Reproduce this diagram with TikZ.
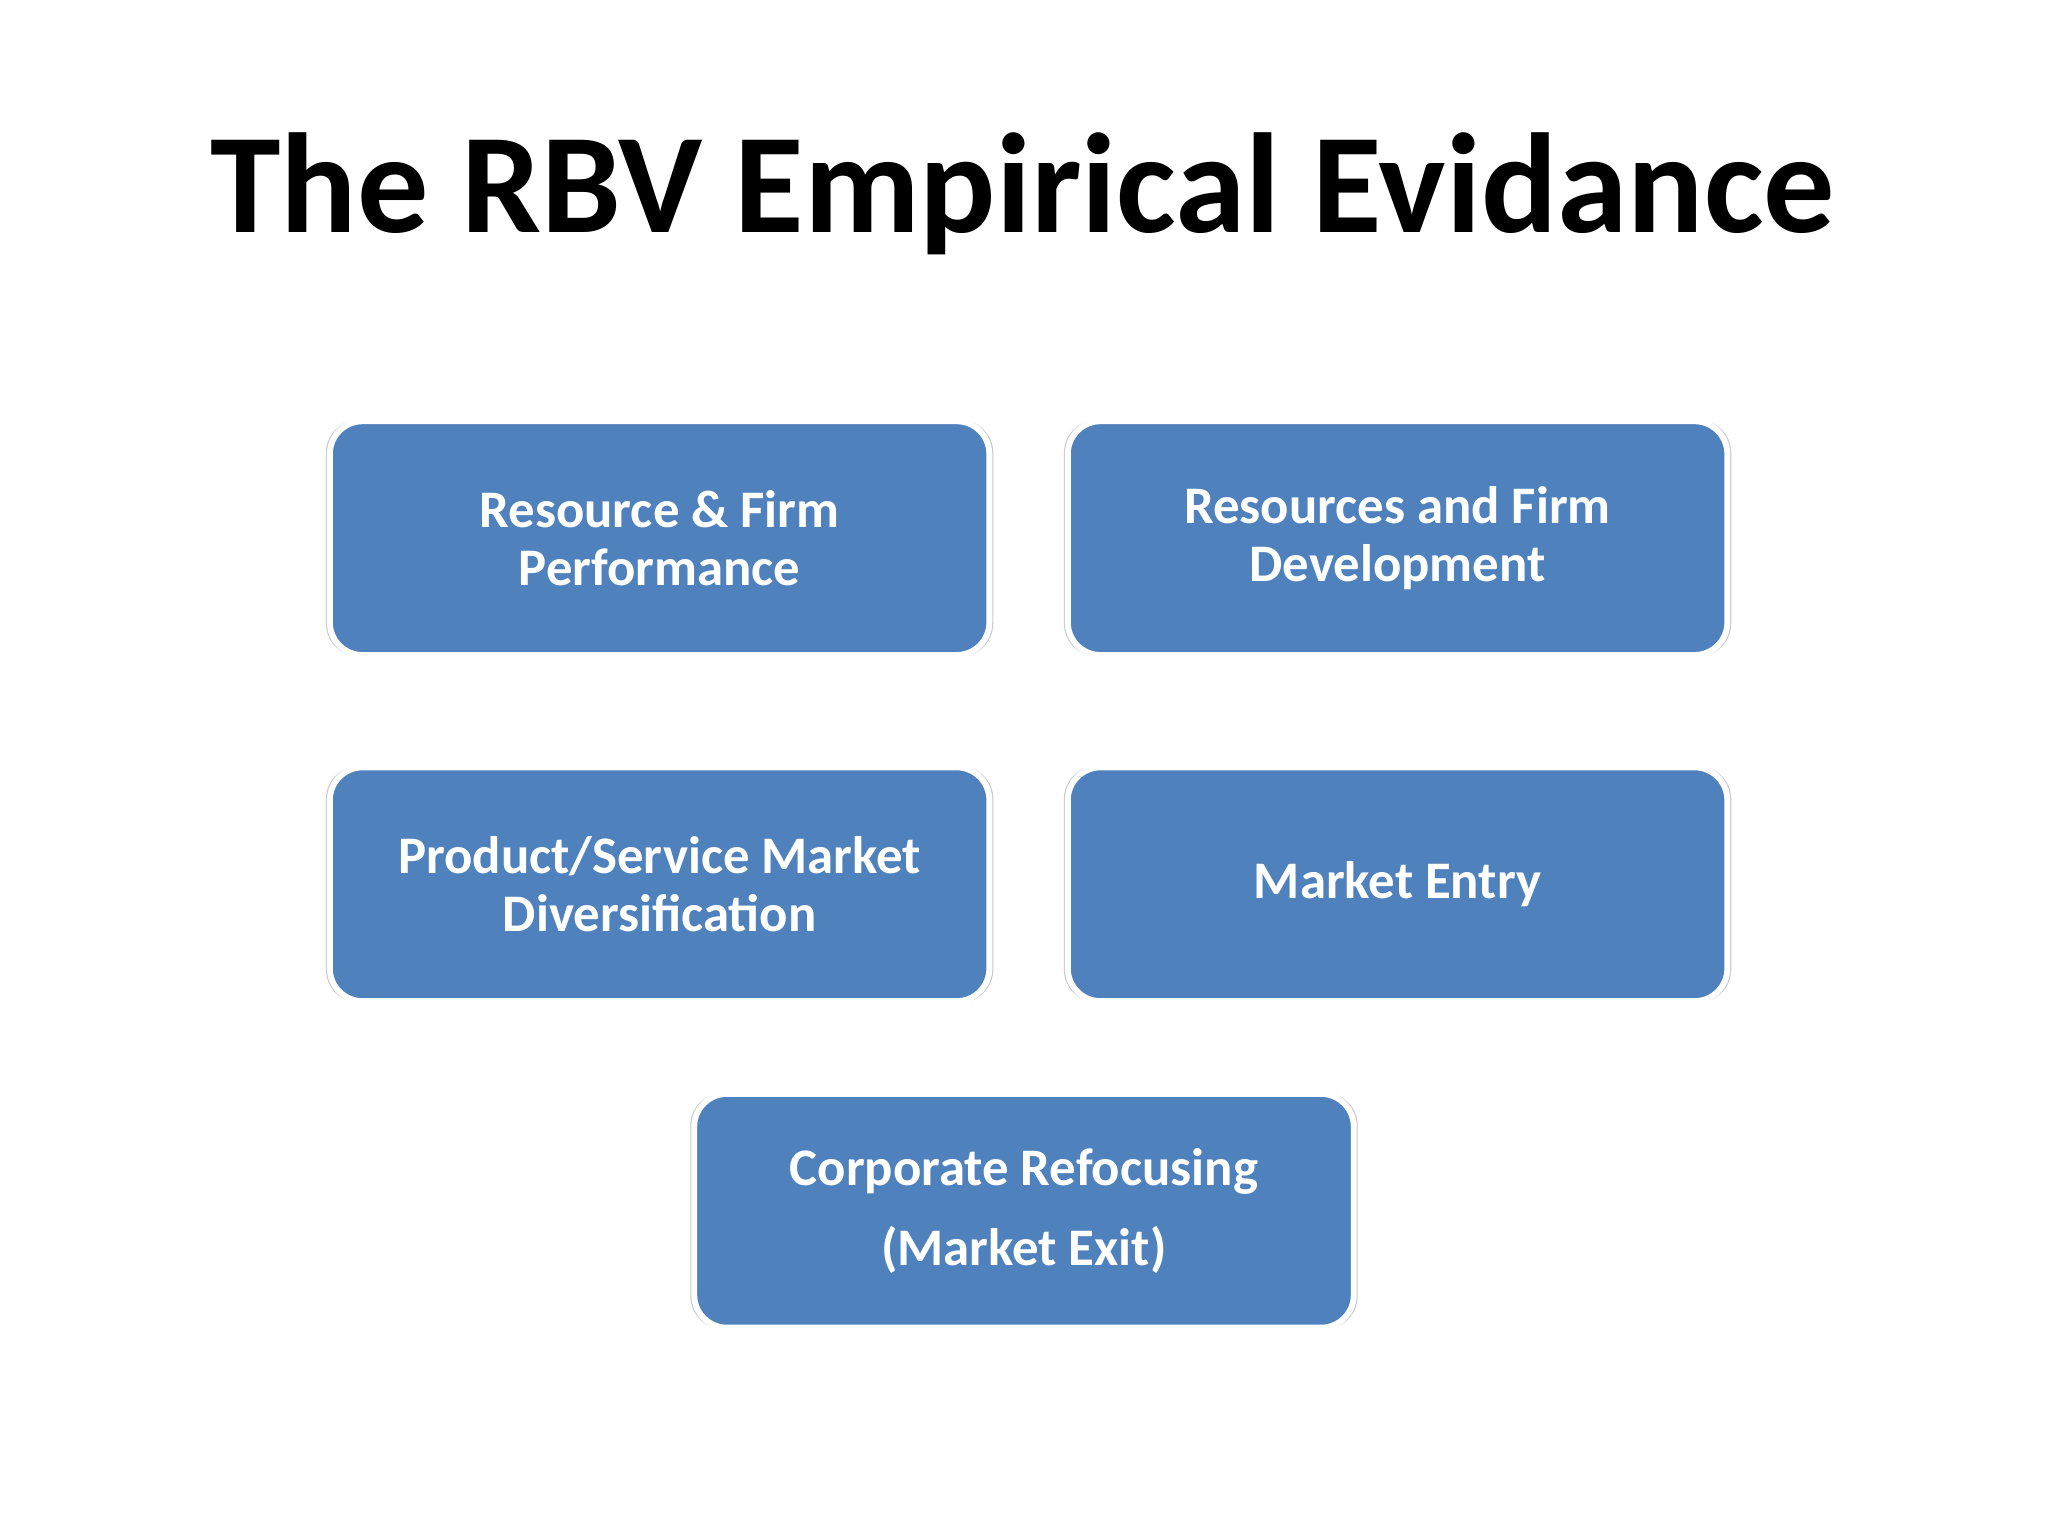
\documentclass[tikz,border=0pt]{standalone}
\usepackage{fontspec}
\setmainfont{Carlito}
\usetikzlibrary{shadows}
\definecolor{boxblue}{RGB}{79,129,189}
\begin{document}
\begin{tikzpicture}[x=0.02cm,y=-0.02cm,
  boxst/.style={draw=white,line width=0.09cm,fill=boxblue,rounded corners=0.5cm,
    minimum width=10.1cm,minimum height=3.58cm,align=center,text=white,
    font=\fontsize{23}{25.6}\selectfont\bfseries,
    drop shadow={shadow xshift=0pt,shadow yshift=0pt,opacity=0.6,fill=gray!70,shadow scale=1.012}}]
\fill[white] (0,0) rectangle (1568,1176);
\node[font=\fontsize{62}{70}\selectfont\bfseries] (title) at (783,148) {The RBV Empirical Evidance};
\node[boxst] (b1) at (505,412) {Resource \& Firm\\Performance};
\node[boxst] (b2) at (1070,412) {Resources and Firm\\Development};
\node[boxst] (b3) at (505,677) {Product/Service Market\\Diversification};
\node[boxst] (b4) at (1070,677) {Market Entry};
\node[boxst,font=\fontsize{23}{35}\selectfont\bfseries] (b5) at (784,927) {Corporate Refocusing\\(Market Exit)};
\end{tikzpicture}
\end{document}
